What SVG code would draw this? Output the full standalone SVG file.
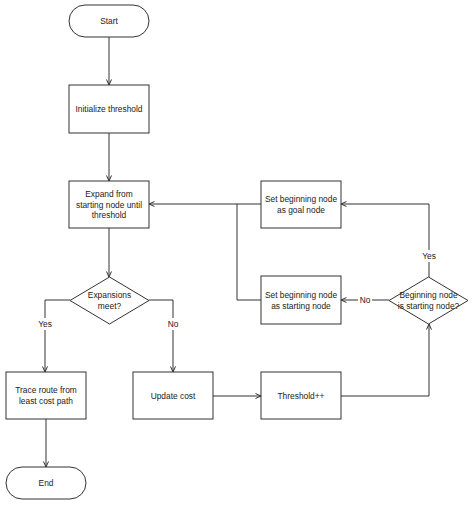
<svg xmlns="http://www.w3.org/2000/svg" width="474" height="505" viewBox="0 0 474 505">
<style>
.n{fill:#fff;stroke:#333;stroke-width:1}
.c{fill:none;stroke:#333;stroke-width:1}
text{font-family:"Liberation Sans",Arial,sans-serif;font-size:8.4px;fill:#222;text-anchor:middle;dominant-baseline:central}
</style>
<defs>
<marker id="a" markerWidth="8" markerHeight="8" refX="7" refY="4" orient="auto" markerUnits="userSpaceOnUse">
<path d="M1.5,1.5 L7,4 L1.5,6.5" fill="none" stroke="#333" stroke-width="1"/>
</marker>
</defs>
<rect width="474" height="505" fill="#fff"/>
<g id="connectors">
<path class="c" d="M109,37 V85" marker-end="url(#a)"/>
<path class="c" d="M109,133 V181" marker-end="url(#a)"/>
<path class="c" d="M109,228 V277" marker-end="url(#a)"/>
<path class="c" d="M70,300 H45 V372" marker-end="url(#a)"/>
<path class="c" d="M149,300 H173 V372" marker-end="url(#a)"/>
<path class="c" d="M46,419 V467" marker-end="url(#a)"/>
<path class="c" d="M213,396 H261" marker-end="url(#a)"/>
<path class="c" d="M341,396 H429 V324" marker-end="url(#a)"/>
<path class="c" d="M389,300 H341" marker-end="url(#a)"/>
<path class="c" d="M429,277 V204 H341" marker-end="url(#a)"/>
<path class="c" d="M261,300 H237 V204"/>
<path class="c" d="M261,204 H149" marker-end="url(#a)"/>
<rect x="36" y="318" width="18" height="12" fill="#fff"/>
<text x="45" y="324">Yes</text>
<rect x="165" y="318" width="16" height="12" fill="#fff"/>
<text x="173" y="324">No</text>
<rect x="358" y="294" width="14" height="12" fill="#fff"/>
<text x="365" y="300">No</text>
<rect x="420" y="250" width="18" height="12" fill="#fff"/>
<text x="429" y="256">Yes</text>
</g>
<g id="start"><rect class="n" x="69" y="5" width="80" height="32" rx="16"/><text x="109" y="21">Start</text></g>
<g id="init"><rect class="n" x="69" y="85" width="80" height="48"/><text x="109" y="109">Initialize threshold</text></g>
<g id="expand"><rect class="n" x="69" y="181" width="80" height="47"/><text x="109" y="194">Expand from</text><text x="109" y="204.5">starting node until</text><text x="109" y="215">threshold</text></g>
<g id="goal"><rect class="n" x="261" y="181" width="80" height="47"/><text x="301" y="199">Set beginning node</text><text x="301" y="210">as goal node</text></g>
<g id="expmeet"><polygon class="n" points="109.5,277 149,300.5 109.5,324 70,300.5"/><text x="109.5" y="295">Expansions</text><text x="109.5" y="306">meet?</text></g>
<g id="setstart"><rect class="n" x="261" y="276" width="80" height="48"/><text x="301" y="295">Set beginning node</text><text x="301" y="306">as starting node</text></g>
<g id="isstart"><polygon class="n" points="428.5,277 468,300.5 428.5,324 389,300.5"/><text x="428.5" y="295">Beginning node</text><text x="428.5" y="306">is starting node?</text></g>
<g id="trace"><rect class="n" x="6" y="372" width="80" height="47"/><text x="46" y="390">Trace route from</text><text x="46" y="401">least cost path</text></g>
<g id="update"><rect class="n" x="133" y="372" width="80" height="47"/><text x="173" y="396">Update cost</text></g>
<g id="thresh"><rect class="n" x="261" y="372" width="80" height="47"/><text x="301" y="396">Threshold++</text></g>
<g id="end"><rect class="n" x="6" y="467" width="80" height="32" rx="16"/><text x="46" y="483">End</text></g>
</svg>
